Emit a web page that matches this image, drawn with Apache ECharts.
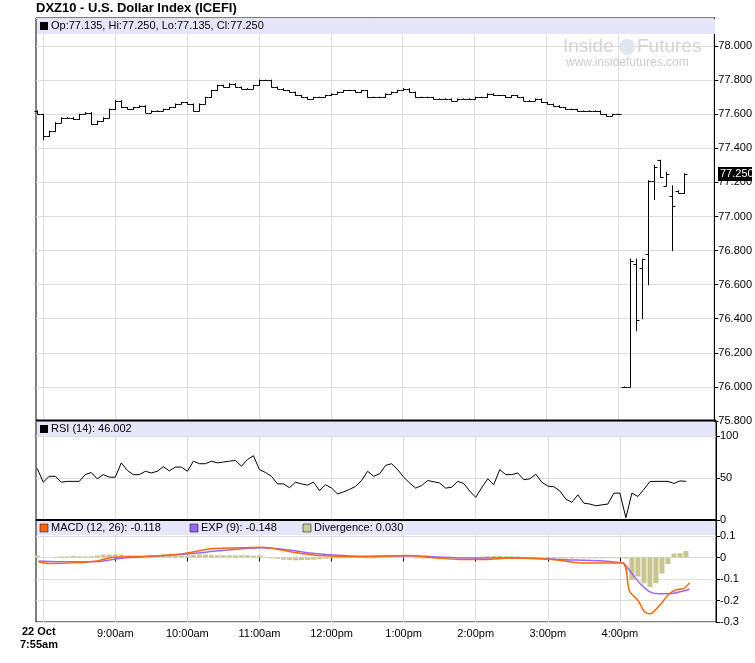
<!DOCTYPE html>
<html><head><meta charset="utf-8">
<script src="https://cdn.jsdelivr.net/npm/echarts@6/dist/echarts.min.js"></script>
<style>html,body{margin:0;padding:0;background:#fff}#c{width:755px;height:663px}</style>
</head><body><div id="c"></div>
<script>
// 5-minute bars, 7:55am .. 4:55pm (minutes since midnight)
const firstBarMinute = 475;
const priceClose = [77.60,77.47,77.50,77.55,77.58,77.58,77.57,77.60,77.61,77.54,77.56,77.58,77.63,
77.68,77.64,77.63,77.64,77.65,77.61,77.62,77.62,77.63,77.64,77.66,77.67,
77.66,77.62,77.66,77.70,77.74,77.77,77.76,77.78,77.76,77.75,77.75,77.77,
77.80,77.80,77.76,77.75,77.74,77.73,77.71,77.70,77.69,77.70,77.70,77.71,
77.72,77.73,77.74,77.74,77.73,77.74,77.70,77.70,77.70,77.72,77.73,77.74,
77.75,77.73,77.70,77.70,77.70,77.69,77.69,77.69,77.68,77.69,77.69,77.69,
77.70,77.70,77.72,77.71,77.71,77.70,77.71,77.70,77.68,77.68,77.69,77.67,
77.66,77.65,77.64,77.63,77.63,77.62,77.62,77.62,77.62,77.60,77.59,77.60,
77.60,
76.00,76.74,76.39,76.75,77.21,77.29,77.23,77.25,77.06,77.14,77.25];
const lateOpen = [76.00,76.00,76.72,76.70,76.78,77.21,77.33,77.18,77.12,77.15,77.135];
const lateHigh = [76.00,76.75,76.75,76.75,77.21,77.30,77.33,77.26,77.18,77.15,77.25];
const lateLow  = [76.00,76.00,76.33,76.40,76.60,77.10,77.23,77.18,76.80,77.14,77.135];
const rsi = [61.5,45,52,52,45,46,46,46,54,56.5,49,54,51,51,68,59,54,54,58,56,
58,63.5,58.5,63,63,58,70,67,67,70,68,69,70,71,64,72,76.5,60,56.5,52,
43,43,38.5,45,43,41.5,45,35,42,38,31,33.5,36.5,40,47,58,52,55,65,67,
60,51,44,38,41,47,45.5,44,38,39,46,43.5,34.6,27,38.5,49,42,60,54,54,
56,48,49,54.6,45,40.4,39.6,34.6,25,21,30,20,19,17,18,19,32,32,2.7,32,28,
36.5,45.8,46,46,46,43.5,46.5,46.0];
const macd = [[476,-0.02],[485,-0.028],[505,-0.025],[525,-0.016],[537,0],[565,0.006],[585,0.012],[597,0.018],[622,0.042],[646,0.045],[662,0.048],[686,0.027],[706,0.011],[747,0.003],[783,0.009],[807,-0.002],[827,-0.009],[848,-0.009],[868,-0.002],[888,-0.003],[908,-0.012],[928,-0.025],[962,-0.025],[968,-0.156],[975,-0.2],[981,-0.255],[985,-0.262],[993,-0.223],[1001,-0.17],[1007,-0.15],[1013,-0.145],[1018,-0.118]];
const expLine = [[476,-0.016],[505,-0.02],[525,-0.019],[545,-0.003],[565,0.003],[605,0.019],[626,0.031],[662,0.045],[686,0.034],[706,0.019],[747,0.006],[783,0.008],[827,-0.002],[868,-0.002],[908,-0.009],[962,-0.025],[969,-0.067],[977,-0.122],[985,-0.16],[993,-0.169],[1005,-0.166],[1018,-0.148]];
const divergence = [0.01,0,0,0.003,0.005,0.005,0.008,0.006,0.005,0.006,0.01,0.014,0.014,
0.014,0.014,0.01,0.008,0.004,0.002,0.004,0.006,0.008,0.01,0.01,0.01,
0.01,0.012,0.014,0.014,0.012,0.01,0.01,0.01,0.01,0.01,0.01,0.008,
0.01,0.003,-0.004,-0.006,-0.01,-0.012,-0.013,-0.012,-0.012,-0.01,-0.008,-0.006,
-0.005,-0.004,-0.003,-0.003,-0.002,-0.002,-0.004,-0.004,-0.002,0,0.002,0.004,
0.004,0,-0.004,-0.005,-0.005,-0.005,-0.005,-0.004,-0.004,-0.003,-0.002,-0.002,
0,0.004,0.006,0.007,0.007,0.006,0.006,0.005,0.002,0,-0.002,-0.003,
-0.004,-0.005,-0.005,-0.005,-0.005,-0.004,-0.004,-0.004,-0.004,-0.004,-0.003,-0.003,
-0.003,
-0.005,-0.105,-0.088,-0.12,-0.137,-0.12,-0.075,-0.03,0.018,0.02,0.03];
const hourTicks = [540,600,660,720,780,840,900,960];
const hourLabels = ['9:00am','10:00am','11:00am','12:00pm','1:00pm','2:00pm','3:00pm','4:00pm'];
const gridHours = [480,540,600,660,720,780,840,900,960];

const nReg = priceClose.length - lateOpen.length;
const bars = priceClose.map((c,i)=>{
  const t = firstBarMinute + 5*i;
  let o,h,l;
  if (i >= nReg) { const k=i-nReg; o=lateOpen[k]; h=lateHigh[k]; l=lateLow[k]; }
  else { o = i===0 ? 77.62 : priceClose[i-1]; h=Math.max(o,c); l=Math.min(o,c); if(i===1) l=77.45; }
  return [t,o,h,l,c];
});
const rsiData = rsi.map((v,i)=>[firstBarMinute+5*i, v]);
const divData = divergence.map((v,i)=>[firstBarMinute+5*i, v]);

const F = 'Liberation Sans';
const vGrid = {silent:true, symbol:['none','none'], label:{show:false},
  lineStyle:{color:'#dddddd', type:'solid', width:1}, data: gridHours.map(h=>({xAxis:h})), z:0};
function xa(idx, showLabels){
  return {type:'value', gridIndex:idx, min:474, max:1040, splitLine:{show:false},
    axisLine:{show:false}, axisTick:{show:showLabels, customValues:hourTicks, length:4, lineStyle:{color:'#000'}},
    axisLabel:{show:showLabels, customValues:hourTicks, color:'#000', fontFamily:F, fontSize:11, margin:6,
      formatter:v=>{const i=hourTicks.indexOf(v); return i>=0?hourLabels[i]:'';}}};
}
function ya(idx, min, max, interval, dec){
  return {type:'value', gridIndex:idx, position:'right', min, max, interval,
    axisLine:{show:true, lineStyle:{color:'#000'}}, axisTick:{show:true, length:4, lineStyle:{color:'#000'}},
    axisLabel:{color:'#000', fontFamily:F, fontSize:11, margin:4, showMaxLabel:false,
      formatter:v=>dec===0?String(Math.round(v)):(Math.abs(v)<1e-9?'0':(dec===3?v.toFixed(3):String(+v.toFixed(1))))},
    splitLine:{show:true, lineStyle:{color:'#dddddd'}}};
}
const chart = echarts.init(document.getElementById('c'));
chart.setOption({
  animation:false, backgroundColor:'#fff',
  grid:[
    {left:36, top:18, width:680, height:403, show:true, borderColor:'#000', borderWidth:1},
    {left:36, top:421, width:680, height:99, show:true, borderColor:'#000', borderWidth:1},
    {left:36, top:520, width:680, height:102, show:true, borderColor:'#000', borderWidth:1}
  ],
  xAxis:[xa(0,false), xa(1,false), xa(2,true)],
  yAxis:[ya(0,75.8,78+28/170,0.2,3), ya(1,0,100+15/0.84,50,0), ya(2,-0.3,0.1+16/215,0.1,1)],
  series:[
    {type:'custom', xAxisIndex:0, yAxisIndex:0, data:bars, encode:{x:0,y:[1,2,3,4]},
     markLine:vGrid,
     renderItem:(params, api)=>{
       const t=api.value(0), o=api.coord([t,api.value(1)]), h=api.coord([t,api.value(2)]),
             l=api.coord([t,api.value(3)]), c=api.coord([t,api.value(4)]);
       const x=Math.round(h[0])+0.5;
       const st={stroke:'#000', lineWidth:1};
       return {type:'group', children:[
         {type:'line', shape:{x1:x,y1:h[1]-0.5,x2:x,y2:l[1]+0.5}, style:st},
         {type:'line', shape:{x1:x-3,y1:Math.round(o[1])+0.5,x2:x,y2:Math.round(o[1])+0.5}, style:st},
         {type:'line', shape:{x1:x,y1:Math.round(c[1])+0.5,x2:x+3,y2:Math.round(c[1])+0.5}, style:st}
       ]};
     }},
    {type:'line', xAxisIndex:1, yAxisIndex:1, data:rsiData, showSymbol:false, lineStyle:{color:'#000', width:1}, markLine:vGrid},
    {type:'bar', xAxisIndex:2, yAxisIndex:2, data:divData, barWidth:5, itemStyle:{color:'#c8c68e'}, markLine:vGrid},
    {type:'line', xAxisIndex:2, yAxisIndex:2, data:expLine, smooth:0.3, showSymbol:false, lineStyle:{color:'#9966ff', width:1.5}},
    {type:'line', xAxisIndex:2, yAxisIndex:2, data:macd, smooth:0.3, showSymbol:false, lineStyle:{color:'#ff6600', width:1.5}}
  ],
  graphic:[
    {type:'text', left:36, top:2, style:{text:'DXZ10 - U.S. Dollar Index (ICEFI)', font:'bold 13px '+F, fill:'#000'}},
    {type:'rect', shape:{x:37,y:19,width:678,height:15}, style:{fill:'#e6e6fa'}, z:50},
    {type:'rect', shape:{x:40,y:22,width:8,height:8}, style:{fill:'#000'}, z:51},
    {type:'text', x:51, y:20, style:{text:'Op:77.135, Hi:77.250, Lo:77.135, Cl:77.250', font:'11px '+F, fill:'#000'}, z:51},
    {type:'text', x:563, y:37, style:{text:'Inside', font:'19px '+F, fill:'#d4d4d4'}, z:1},
    {type:'circle', shape:{cx:627,cy:47,r:8}, style:{fill:'#dfe7ef'}, z:1},
    {type:'text', x:637, y:37, style:{text:'Futures', font:'19px '+F, fill:'#d4d4d4'}, z:1},
    {type:'text', x:566, y:57, style:{text:'www.insidefutures.com', font:'12px '+F, fill:'#cccccc'}, z:1},
    {type:'rect', shape:{x:718,y:167,width:34,height:14}, style:{fill:'#000'}, z:50},
    {type:'text', x:720, y:168, style:{text:'77.250', font:'11px '+F, fill:'#fff'}, z:51},
    {type:'rect', shape:{x:37,y:422,width:678,height:14}, style:{fill:'#e6e6fa'}, z:50},
    {type:'rect', shape:{x:40,y:425,width:8,height:8}, style:{fill:'#000'}, z:51},
    {type:'text', x:51, y:423, style:{text:'RSI (14): 46.002', font:'11px '+F, fill:'#000'}, z:51},
    {type:'rect', shape:{x:37,y:521,width:678,height:14}, style:{fill:'#e6e6fa'}, z:50},
    {type:'rect', shape:{x:40,y:524,width:8,height:8}, style:{fill:'#ff6600', stroke:'#000', lineWidth:0.5}, z:51},
    {type:'text', x:51, y:522, style:{text:'MACD (12, 26): -0.118', font:'11px '+F, fill:'#000'}, z:51},
    {type:'rect', shape:{x:190,y:524,width:8,height:8}, style:{fill:'#9966ff', stroke:'#000', lineWidth:0.5}, z:51},
    {type:'text', x:201, y:522, style:{text:'EXP (9): -0.148', font:'11px '+F, fill:'#000'}, z:51},
    {type:'rect', shape:{x:303,y:524,width:8,height:8}, style:{fill:'#cccc99', stroke:'#000', lineWidth:0.5}, z:51},
    {type:'text', x:314, y:522, style:{text:'Divergence: 0.030', font:'11px '+F, fill:'#000'}, z:51},
    {type:'line', shape:{x1:36,y1:420.5,x2:716,y2:420.5}, style:{stroke:'#000', lineWidth:2}, z:60},
    {type:'line', shape:{x1:36,y1:520,x2:716,y2:520}, style:{stroke:'#000', lineWidth:2}, z:60},
    {type:'text', x:22, y:626, style:{text:'22 Oct', font:'bold 11px '+F, fill:'#000'}},
    {type:'text', x:20, y:639, style:{text:'7:55am', font:'bold 11px '+F, fill:'#000'}}
  ]
});
</script></body></html>
